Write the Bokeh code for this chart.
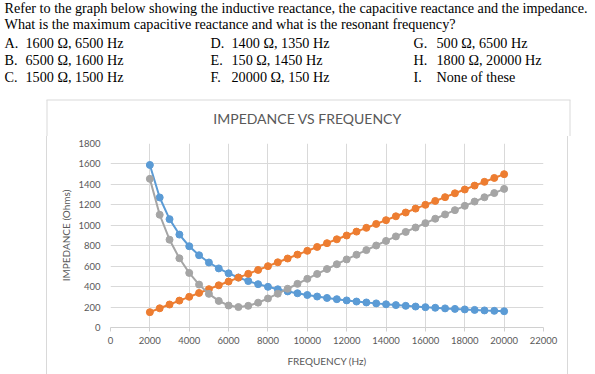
from bokeh.plotting import figure
from bokeh.models import Range1d, FixedTicker, ColumnDataSource, Spacer
from bokeh.layouts import column, row
from bokeh.core.properties import value
from bokeh.embed import file_html
from bokeh.resources import INLINE

# ---- data ----
freq = [2000, 2500, 3000, 3500, 4000, 4500, 5000, 5500, 6000, 6500,
        7000, 7500, 8000, 8500, 9000, 9500, 10000, 10500, 11000, 11500,
        12000, 12500, 13000, 13500, 14000, 14500, 15000, 15500, 16000, 16500,
        17000, 17500, 18000, 18500, 19000, 19500, 20000]
x_c = [1590, 1272, 1060, 909, 795, 707, 636, 578, 530, 489,
       454, 424, 398, 374, 353, 335, 318, 303, 289, 277,
       265, 254, 245, 236, 227, 219, 212, 205, 199, 193,
       187, 182, 177, 172, 167, 163, 159]
x_l = [150, 188, 225, 263, 300, 338, 375, 413, 450, 488,
       525, 563, 600, 638, 675, 713, 750, 788, 825, 863,
       900, 938, 975, 1013, 1050, 1088, 1125, 1163, 1200, 1238,
       1275, 1313, 1350, 1388, 1425, 1463, 1500]
z = [1454, 1103, 859, 677, 534, 420, 329, 260, 215, 200,
     212, 243, 284, 331, 379, 427, 476, 524, 572, 619,
     666, 712, 757, 802, 847, 891, 935, 978, 1021, 1064,
     1106, 1148, 1190, 1232, 1274, 1315, 1356]
x_ticks = [0, 2000, 4000, 6000, 8000, 10000, 12000, 14000, 16000, 18000, 20000, 22000]
y_ticks = [0, 200, 400, 600, 800, 1000, 1200, 1400, 1600, 1800]

question = ["Refer to the graph below showing the inductive reactance, the capacitive reactance and the impedance.",
            "What is the maximum capacitive reactance and what is the resonant frequency?"]
opt_letters = [["A.", "B.", "C."], ["D.", "E.", "F."], ["G.", "H.", "I."]]
opt_texts = [["1600 \u03a9, 6500 Hz", "6500 \u03a9, 1600 Hz", "1500 \u03a9, 1500 Hz"],
             ["1400 \u03a9, 1350 Hz", "150 \u03a9, 1450 Hz", "20000 \u03a9, 150 Hz"],
             ["500 \u03a9, 6500 Hz", "1800 \u03a9, 20000 Hz", "None of these"]]
chart_title = "IMPEDANCE VS FREQUENCY"
x_title = "FREQUENCY (Hz)"
y_title = "IMPEDANCE (Ohms)"

GRID = "#d9d9d9"
TXT = "#595959"

# ---- header panel: question text, chart title, top of chart box (top-down px) ----
TW, TH = 595, 136
tp = figure(width=TW, height=TH, output_backend="svg", toolbar_location=None,
            x_range=Range1d(0, TW), y_range=Range1d(TH, 0),
            min_border=0, x_axis_type=None, y_axis_type=None)
tp.outline_line_color = None
tp.xgrid.visible = False
tp.ygrid.visible = False

line_y = [7.5, 23]
row_y = [42.5, 59, 76]
col_x = [(4, 25), (210, 231), (413, 436)]
tx, ty, tt = [], [], []
for i, s in enumerate(question):
    tx.append(4); ty.append(line_y[i]); tt.append(s)
for c in range(3):
    for r in range(3):
        tx += [col_x[c][0], col_x[c][1]]
        ty += [row_y[r], row_y[r]]
        tt += [opt_letters[c][r], opt_texts[c][r]]
tp.text(x="x", y="y", text="text", source=ColumnDataSource(dict(x=tx, y=ty, text=tt)),
        text_font=value("Liberation Serif"), text_font_size=value("14.2px"),
        text_color="black", text_baseline="middle", text_align="left")

# chart box (top edge and upper part of the sides)
tp.segment(x0=[46, 46.5, 569.5], y0=[99.5, 99.5, 99.5], x1=[570, 46.5, 569.5], y1=[99.5, TH, TH],
           line_color=GRID, line_width=1)
tp.text(x=[307], y=[118], text=[chart_title], text_font=value("Lato"),
        text_font_size=value("14px"), text_color=TXT,
        text_align="center", text_baseline="middle")

# ---- chart ----
p = figure(width=522, height=374 - TH, output_backend="svg", toolbar_location=None,
           x_range=Range1d(0, 22000), y_range=Range1d(0, 1800),
           min_border_left=63, min_border_right=26,
           min_border_top=143 - TH, min_border_bottom=47,
           styles={"border-left": "1px solid #d9d9d9", "border-right": "1px solid #d9d9d9"})
p.outline_line_color = None

p.xaxis.ticker = FixedTicker(ticks=x_ticks)
p.yaxis.ticker = FixedTicker(ticks=y_ticks)
p.xgrid.ticker = FixedTicker(ticks=x_ticks)
p.ygrid.ticker = FixedTicker(ticks=y_ticks)
p.xgrid.grid_line_color = GRID
p.ygrid.grid_line_color = GRID
p.xaxis.axis_label = x_title
p.yaxis.axis_label = y_title
for ax in (p.xaxis[0], p.yaxis[0]):
    ax.major_label_text_font = "Lato"
    ax.major_label_text_font_size = "9.5px"
    ax.major_label_text_color = TXT
    ax.axis_label_text_font = "Lato"
    ax.axis_label_text_font_size = "10px"
    ax.axis_label_text_font_style = "normal"
    ax.axis_label_text_color = TXT
    ax.minor_tick_line_color = None
    ax.major_tick_in = 0
p.xaxis.axis_line_color = "#d0d0d0"
p.xaxis.major_tick_line_color = "#d0d0d0"
p.xaxis.major_tick_out = 4
p.xaxis.major_label_standoff = 5
p.xaxis.axis_label_standoff = 8
p.yaxis.axis_line_color = None
p.yaxis.major_tick_line_color = None
p.yaxis.major_tick_out = 0
p.yaxis.major_label_standoff = 10
p.yaxis.axis_label_standoff = 3

series = [(x_c, "#5B9BD5"), (x_l, "#ED7D31"), (z, "#A5A5A5")]
for ys, col in series:
    p.line(freq, ys, line_color=col, line_width=2)
    p.scatter(freq, ys, size=7, fill_color=col, line_color=col)

layout = column(tp, row(Spacer(width=46, height=10), p))

open("out.html", "w").write(file_html(layout, INLINE))
